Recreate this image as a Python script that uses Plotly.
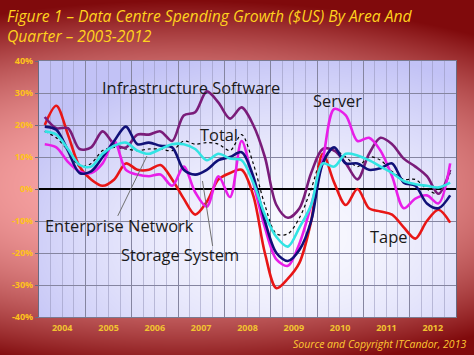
import base64
import struct
import zlib

import numpy as np
import pandas as pd
import plotly.graph_objects as go

# ---------------- data (quarterly growth, %) ----------------
quarters = [f"{y}Q{q}" for y in range(2004, 2013) for q in range(1, 5)]

tape = [20, 26, 17, 7, 3, 1, 3, 8, 6, 6, 7.5, 3,
        -3, -8, -4, 3, 5, 6, -2, -20, -31, -28, -23, -10,
        11, 2, -5, 0, -6, -7, -8, -12, -15.5, -10, -6.5, -10.5]
infra_software = [22.5, 19, 19, 12.5, 13, 18, 14, 13, 17, 17, 18, 15,
                  23, 24, 30.5, 27, 22, 25.5, 20, 10, -5, -9, -6, 5,
                  12.5, 12, 8, 3, 11, 16, 14, 9.5, 7, 4, -1.5, 6]
server = [14, 13, 8.5, 5.5, 5, 8, 15, 6, 4.5, 4, 4.5, 1,
          7, -1, -5.5, 4, -2.5, 15, 2, -12, -22, -24, -17, -5,
          9, 25, 23, 15, 16, 12, 4, -6, -3, -2, -4.5, 8]
storage_system = [19.5, 18.5, 12, 5, 5.5, 10, 15, 19.5, 14, 14.5, 13.5, 13,
                  6, 4.5, 6, 9, 10, 11.5, 4, -10, -20, -22.5, -19, -10,
                  8, 13, 8, 8, 6, 6.5, 8, 2, 1, -4.5, -6, -2]
enterprise_network = [18, 17, 12.5, 7.5, 7, 11, 13.5, 14.5, 12, 11, 12.5, 14,
                      14, 12.5, 9, 11, 9.5, 9, 2, -8, -15, -18, -12, -5,
                      8, 7, 11, 10.5, 9, 7, 5, 2.5, 1.5, 1, 0.5, 2]
total = [18, 16, 12, 7, 8, 12, 13, 12.5, 12, 12.5, 12.5, 12,
         15, 14, 14.5, 14, 12, 17, 8, -5, -14, -14, -9, 0,
         10, 12, 10, 7, 10, 9, 5.5, 3, 3, 0, -1.5, 5]

y_tick_vals = [40, 30, 20, 10, 0, -10, -20, -30, -40]
y_tick_text = ["40%", "30%", "20%", "10%", "0%", "-10%", "-20%", "-30%", "-40%"]

# quarter mid-points for the date axis
def quarter_mid(label):
    p = pd.Period(label, freq="Q")
    return p.start_time + (p.end_time - p.start_time) / 2

x_dates = [quarter_mid(q) for q in quarters]

# ---------------- gradient backgrounds ----------------
W, H = 474, 355
ML, MR, MT, MB = 39, 18, 61, 38
PW, PH = W - ML - MR, H - MT - MB


def png_uri(arr):
    arr = np.clip(arr, 0, 255).astype(np.uint8)
    h, w, _ = arr.shape
    raw = b"".join(b"\x00" + arr[r].tobytes() for r in range(h))

    def chunk(t, d):
        return (struct.pack(">I", len(d)) + t + d
                + struct.pack(">I", zlib.crc32(t + d) & 0xFFFFFFFF))

    png = (b"\x89PNG\r\n\x1a\n"
           + chunk(b"IHDR", struct.pack(">IIBBBBB", w, h, 8, 2, 0, 0, 0))
           + chunk(b"IDAT", zlib.compress(raw, 9))
           + chunk(b"IEND", b""))
    return "data:image/png;base64," + base64.b64encode(png).decode()


def radial(w, h, cx, cy, rx, ry, inner, outer, power=2.0):
    yy, xx = np.mgrid[0:h, 0:w].astype(float)
    r2 = ((xx - cx) / rx) ** 2 + ((yy - cy) / ry) ** 2
    f = np.clip(1 - r2 ** (power / 2), 0, 1)[..., None]
    inner = np.array(inner, float)
    outer = np.array(outer, float)
    return outer + (inner - outer) * f


outer_bg = radial(W, H, 185, 185, 500, 185, (255, 172, 172), (128, 10, 12))
plot_bg = radial(PW, PH, 250, 175, 300, 190, (250, 250, 255), (194, 194, 246), power=1.6)

# ---------------- figure ----------------
fig = go.Figure()

series = [
    ("Total", total, "black", 1.2, "dot"),
    ("Tape", tape, "rgb(232,22,22)", 2.6, "solid"),
    ("Infrastructure Software", infra_software, "rgb(122,28,122)", 2.6, "solid"),
    ("Server", server, "rgb(232,30,232)", 2.6, "solid"),
    ("Storage System", storage_system, "rgb(16,16,120)", 2.6, "solid"),
    ("Enterprise Network", enterprise_network, "rgb(50,228,228)", 2.6, "solid"),
]
for name, vals, color, width, dash in series:
    fig.add_trace(go.Scatter(
        x=x_dates, y=vals, name=name, mode="lines",
        line=dict(color=color, width=width, dash=dash, shape="spline", smoothing=0.9),
        showlegend=False, hoverinfo="skip",
    ))

label_font = dict(family="Open Sans", size=16.4, color="#1a1a1a")
labels = [
    ("Infrastructure Software", 0.3645, 0.898),
    ("Server", 0.715, 0.844),
    ("Total", 0.4305, 0.711),
    ("Enterprise Network", 0.192, 0.359),
    ("Storage System", 0.338, 0.245),
    ("Tape", 0.837, 0.316),
]
annotations = [
    dict(text=t, x=x, y=y, xref="paper", yref="paper", showarrow=False,
         font=label_font, xanchor="center", yanchor="middle")
    for t, x, y in labels
]
# title, relative to the full figure
annotations.append(dict(
    text="Figure 1 – Data Centre Spending Growth ($US) By Area And<br>Quarter – 2003-2012",
    x=(5 - ML) / PW, y=1 + (MT - 3) / PH, xref="paper", yref="paper", showarrow=False,
    xanchor="left", yanchor="top", align="left",
    font=dict(family="Open Sans", size=15.7, color="#FFD21E", style="italic"),
))
# source line
annotations.append(dict(
    text="Source and Copyright ITCandor, 2013",
    x=1 + (MR - 6) / PW, y=-(344 - MT - PH) / PH,
    xref="paper", yref="paper", showarrow=False,
    xanchor="right", yanchor="middle",
    font=dict(family="Open Sans", size=10.5, color="#FFC832", style="italic"),
))

# leader lines (data coordinates)
shapes = [
    dict(type="line", xref="x", yref="y", x0="2005-09-13", y0=-8.4, x1="2006-05-01", y1=10.3,
         line=dict(color="#707070", width=1)),
    dict(type="line", xref="x", yref="y", x0="2007-10-01", y0=-17.8, x1="2007-07-13", y1=2.5,
         line=dict(color="#707070", width=1)),
]

images = [
    dict(source=png_uri(outer_bg), xref="paper", yref="paper",
         x=-ML / PW, y=1 + MT / PH, sizex=W / PW, sizey=H / PH,
         sizing="stretch", xanchor="left", yanchor="top", layer="below"),
    dict(source=png_uri(plot_bg), xref="paper", yref="paper",
         x=0, y=1, sizex=1, sizey=1,
         sizing="stretch", xanchor="left", yanchor="top", layer="below"),
]

fig.update_layout(
    width=W, height=H,
    margin=dict(l=ML, r=MR, t=MT, b=MB),
    paper_bgcolor="rgb(150,30,30)",
    plot_bgcolor="rgba(0,0,0,0)",
    annotations=annotations,
    shapes=shapes,
    images=images,
    font=dict(family="Open Sans"),
    xaxis=dict(
        type="date",
        range=["2004-01-01", "2013-01-01"],
        tick0="2004-01-01", dtick="M12",
        ticklabelmode="period", tickformat="%Y",
        showgrid=True, gridcolor="#8585a0", gridwidth=1,
        minor=dict(dtick="M3", showgrid=True, gridcolor="rgba(150,150,185,0.55)", gridwidth=0.6),
        showline=True, linecolor="#7a7a90", mirror=True,
        ticks="", ticklabelstandoff=2,
        tickfont=dict(family="Open Sans", size=9, color="#F2C230", weight="bold"),
        zeroline=False,
    ),
    yaxis=dict(
        range=[-40, 40],
        tickvals=y_tick_vals, ticktext=y_tick_text,
        showgrid=True, gridcolor="#8585a0", gridwidth=1,
        zeroline=True, zerolinecolor="black", zerolinewidth=2,
        showline=True, linecolor="#6a6a80", mirror=True,
        ticks="outside", ticklen=3, tickcolor="#6a6a80",
        tickfont=dict(family="Open Sans", size=9, color="#FFC21A", weight="bold"),
    ),
)

fig.write_html("out.html", config={"displayModeBar": False},
               post_script="document.body.style.margin='0px';")
